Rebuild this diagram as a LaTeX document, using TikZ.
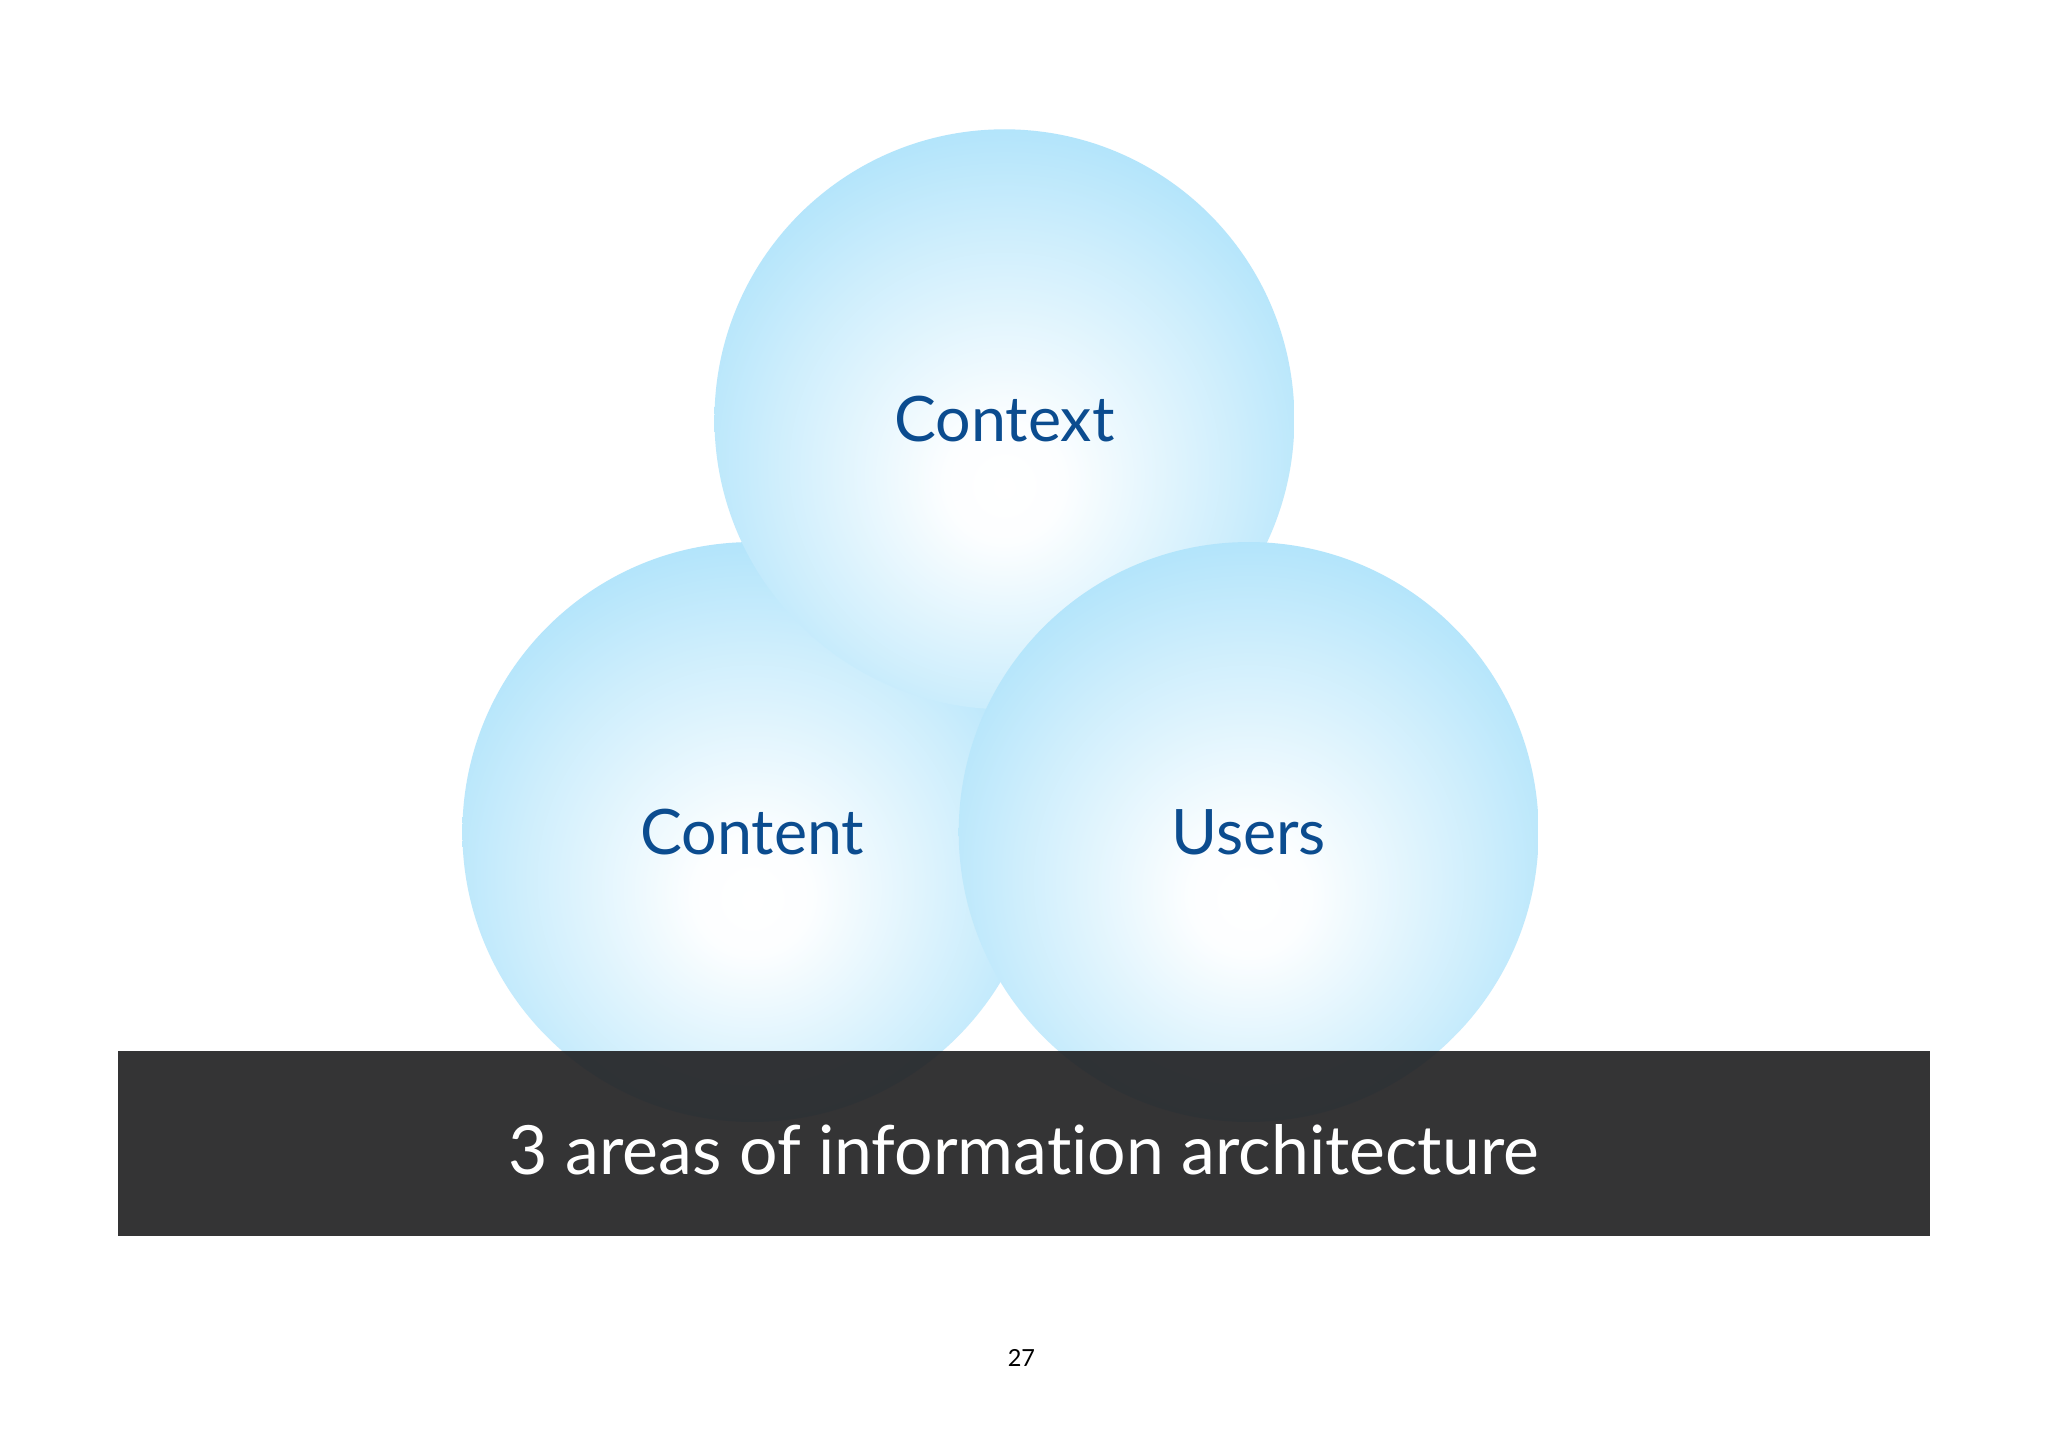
\documentclass[tikz,border=0pt]{standalone}
\usepackage{fontspec}
\setmainfont[Ligatures=NoCommon]{Lato}
\definecolor{bl}{HTML}{A6E0FA}
\definecolor{txt}{HTML}{0B4C8F}
\definecolor{bar}{HTML}{1E1E20}
\pgfdeclareradialshading{ball}{\pgfpoint{0bp}{-6bp}}{color(0bp)=(white); color(5bp)=(white!97!bl); color(20bp)=(bl!55!white); color(32bp)=(bl); color(60bp)=(bl)}
\tikzset{ballc/.style={circle, minimum size=444pt, inner sep=0pt, shading=ball, font=\fontsize{48}{48}\selectfont, text=txt},
}
\begin{document}
\begin{tikzpicture}[x=1pt,y=-1pt]
\useasboundingbox[fill=white] (0,0) rectangle (1568,1108);
\node[ballc] (content) at (576,637) {Content};
\node[ballc] (context) at (769,321) {Context};
\node[ballc] (users) at (956,637) {Users};
\fill[bar, opacity=0.9] (90,805) rectangle (1478,946);
\node[text=white, font=\fontsize{52}{52}\selectfont] (title) at (784,880) {3 areas of information architecture};
\node[font=\fontsize{18}{18}\selectfont] (num) at (782,1040) {27};
\end{tikzpicture}
\end{document}
